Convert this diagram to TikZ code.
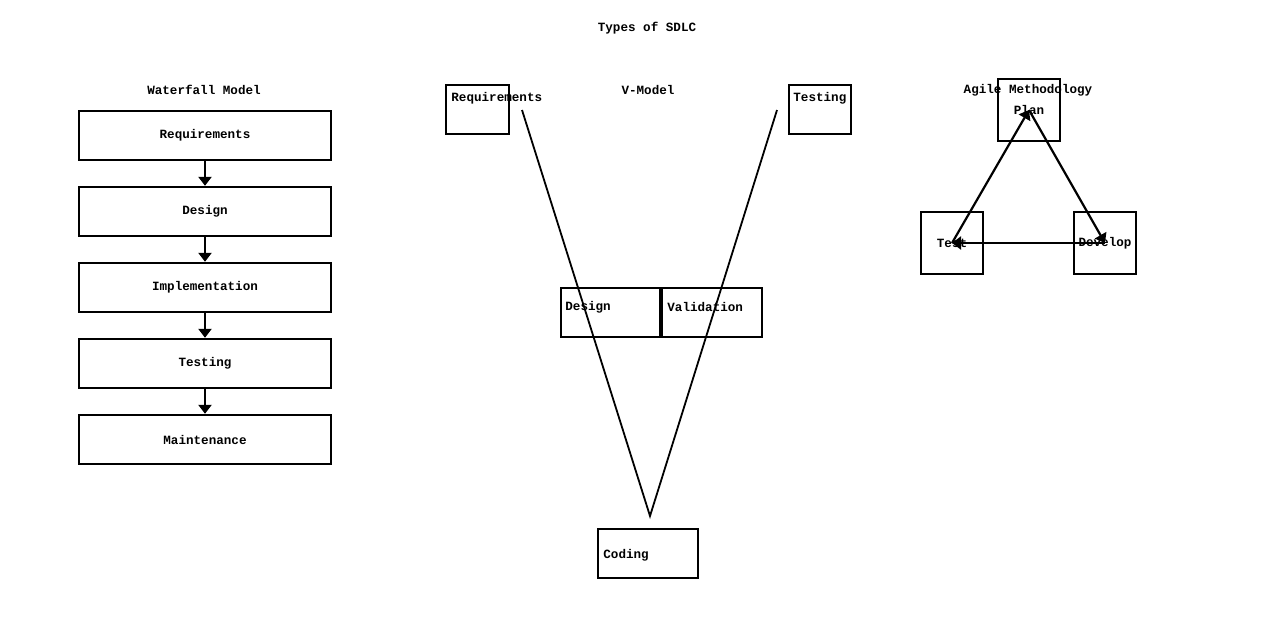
\documentclass[tikz,border=0pt]{standalone}
\usepackage{fontspec}
\setmonofont{Liberation Mono}
\usetikzlibrary{arrows.meta}
\begin{document}
\begin{tikzpicture}[x=0.5pt,y=-0.5pt,
  every node/.style={font=\ttfamily\bfseries\fontsize{6.3pt}{7pt}\selectfont, inner sep=0pt},
  box/.style={draw, line width=1.2pt, minimum width=#1, minimum height=24.5pt},
  sq/.style={draw, line width=1.2pt, minimum width=31pt, minimum height=31pt},
  flow/.style={line width=1.1pt, -{Triangle[width=6.5pt,length=4.5pt]}},
  vline/.style={line width=0.9pt}]
\useasboundingbox (0,0) rectangle (1283,638);
\node (title) at (647,28) {Types of SDLC};
% Waterfall
\node (wtitle) at (204,90) {Waterfall Model};
\node[box=126pt] (w1) at (205,135.5) {Requirements};
\node[box=126pt] (w2) at (205,211.5) {Design};
\node[box=126pt] (w3) at (205,287.5) {Implementation};
\node[box=126pt] (w4) at (205,363.5) {Testing};
\node[box=126pt] (w5) at (205,439.5) {Maintenance};
\draw[flow] (w1) -- (w2);
\draw[flow] (w2) -- (w3);
\draw[flow] (w3) -- (w4);
\draw[flow] (w4) -- (w5);
% V-Model
\node (vtitle) at (648,90) {V-Model};
\node[box=31.5pt] (vreq) at (477.5,109.5) {};
\node[anchor=west] (vreqt) at (451,98) {Requirements};
\node[box=31pt] (vtest) at (820,109.5) {};
\node[anchor=west] (vtestt) at (793,98) {Testing};
\node[box=49.5pt] (vdes) at (610.5,312.5) {};
\node[anchor=west] (vdest) at (565,307) {Design};
\node[box=50pt] (vval) at (712,312.5) {};
\node[anchor=west] (vvalt) at (667,307) {Validation};
\node[box=50pt] (vcod) at (648,553.5) {};
\node[anchor=west] (vcodt) at (603,555) {Coding};
\coordinate (vl) at (522,110);
\coordinate (vb) at (650,516);
\coordinate (vr) at (777,110);
\draw[vline] (vl) -- (vb) -- (vr);
% Agile
\node[sq] (plan) at (1029,110) {};
\node[sq] (test) at (952,243) {};
\node[sq] (dev) at (1105,243) {};
\node (atitle) at (1028,90) {Agile Methodology};
\node (plant) at (1029,110) {Plan};
\node (testt) at (952,243) {Test};
\node (devt) at (1105,243) {Develop};
\draw[flow] (plan.center) -- (dev.center);
\draw[flow] (dev.center) -- (test.center);
\draw[flow] (test.center) -- (plan.center);
\end{tikzpicture}
\end{document}
